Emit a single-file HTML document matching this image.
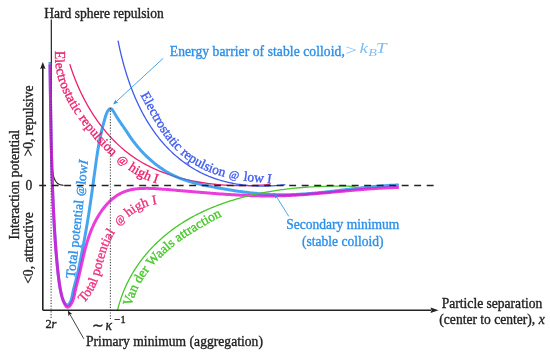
<!DOCTYPE html><html><head><meta charset="utf-8"><style>
*{margin:0;padding:0}
html,body{width:550px;height:354px;background:#fff;overflow:hidden}
svg{display:block}
text{font-family:"Liberation Serif",serif;font-size:13.55px}
</style></head><body><svg width="550" height="354" viewBox="0 0 550 354">
<defs>
<path id="pinkT" d="M57.22,37.33 L57.03,38.14 L56.86,38.95 L56.70,39.75 L56.54,40.55 L56.39,41.35 L56.25,42.15 L56.12,42.94 L55.99,43.73 L55.88,44.51 L55.77,45.29 L55.67,46.07 L55.57,46.84 L55.49,47.61 L55.41,48.38 L55.34,49.14 L55.28,49.91 L55.22,50.66 L55.17,51.42 L55.13,52.17 L55.10,52.92 L55.07,53.66 L55.05,54.40 L55.04,55.14 L55.04,55.88 L55.04,56.61 L55.05,57.34 L55.06,58.07 L55.08,58.79 L55.11,59.51 L55.14,60.23 L55.18,60.95 L55.23,61.66 L55.28,62.37 L55.34,63.08 L55.41,63.78 L55.48,64.48 L55.56,65.18 L55.64,65.88 L55.73,66.57 L55.83,67.26 L55.93,67.95 L56.03,68.64 L56.15,69.32 L56.26,70.00 L56.39,70.68 L56.51,71.35 L56.65,72.03 L56.79,72.70 L56.93,73.37 L57.08,74.03 L57.23,74.70 L57.39,75.36 L57.55,76.02 L57.72,76.67 L57.90,77.33 L58.07,77.98 L58.26,78.63 L58.44,79.28 L58.64,79.92 L58.83,80.56 L59.03,81.20 L59.24,81.84 L59.45,82.48 L59.66,83.11 L59.88,83.75 L60.10,84.38 L60.33,85.01 L60.56,85.63 L60.79,86.26 L61.03,86.88 L61.27,87.50 L61.51,88.12 L61.76,88.74 L62.02,89.35 L62.27,89.97 L62.53,90.58 L62.80,91.19 L63.06,91.80 L63.33,92.40 L63.61,93.01 L63.88,93.61 L64.16,94.21 L64.45,94.81 L64.74,95.41 L65.02,96.01 L65.32,96.60 L65.61,97.19 L65.91,97.79 L66.22,98.38 L66.52,98.96 L66.83,99.55 L67.14,100.14 L67.45,100.72 L67.77,101.30 L68.09,101.89 L68.41,102.47 L68.73,103.04 L69.06,103.62 L69.39,104.20 L69.72,104.77 L70.06,105.34 L70.40,105.92 L70.73,106.49 L71.08,107.05 L71.42,107.62 L71.77,108.19 L72.12,108.75 L72.47,109.32 L72.82,109.88 L73.18,110.44 L73.53,111.00 L73.89,111.56 L74.26,112.12 L74.62,112.67 L74.99,113.23 L75.36,113.78 L75.73,114.34 L76.10,114.89 L76.47,115.44 L76.85,115.99 L77.23,116.54 L77.61,117.09 L77.99,117.63 L78.37,118.18 L78.76,118.72 L79.14,119.26 L79.53,119.81 L79.92,120.35 L80.32,120.89 L80.71,121.42 L81.11,121.96 L81.50,122.50 L81.90,123.03 L82.30,123.57 L82.70,124.10 L83.11,124.63 L83.51,125.16 L83.92,125.69 L84.33,126.22 L84.74,126.75 L85.15,127.28 L85.56,127.80 L85.98,128.33 L86.39,128.85 L86.81,129.37 L87.23,129.89 L87.65,130.41 L88.07,130.93 L88.49,131.45 L88.92,131.97 L89.34,132.48 L89.77,133.00 L90.20,133.51 L90.63,134.02 L91.06,134.53 L91.49,135.04 L91.92,135.55 L92.36,136.06 L92.79,136.57 L93.23,137.07 L93.67,137.58 L94.11,138.08 L94.55,138.58 L94.99,139.08 L95.44,139.58 L95.88,140.08 L96.33,140.58 L96.78,141.07 L97.23,141.57 L97.68,142.06 L98.13,142.56 L98.58,143.05 L99.03,143.54 L99.49,144.02 L99.95,144.51 L100.40,145.00 L100.86,145.48 L101.32,145.96 L101.78,146.45 L102.25,146.93 L102.71,147.41 L103.17,147.88 L103.64,148.36 L104.11,148.83 L104.58,149.31 L105.05,149.78 L105.52,150.25 L105.99,150.72 L106.47,151.19 L106.94,151.65 L107.42,152.11 L107.90,152.58 L108.38,153.04 L108.86,153.50 L109.34,153.96 L109.82,154.41 L110.31,154.87 L110.79,155.32 L111.28,155.77 L111.77,156.22 L112.26,156.67 L112.75,157.11 L113.25,157.55 L113.74,158.00 L114.24,158.44 L114.74,158.87 L115.24,159.31 L115.74,159.74 L116.24,160.18 L116.75,160.61 L117.25,161.03 L117.76,161.46 L118.27,161.88 L118.78,162.31 L119.29,162.73 L119.81,163.14 L120.32,163.56 L120.84,163.97 L121.36,164.38 L121.88,164.79 L122.40,165.20 L122.93,165.60 L123.46,166.00 L123.98,166.40 L124.51,166.80 L125.05,167.19 L125.58,167.58 L126.12,167.97 L126.66,168.36 L127.20,168.74 L127.74,169.12 L128.28,169.50 L128.83,169.88 L129.38,170.25 L129.93,170.62 L130.48,170.99 L131.04,171.35 L131.60,171.71 L132.16,172.07 L132.72,172.43 L133.28,172.78 L133.85,173.13 L134.42,173.48 L134.99,173.82 L135.57,174.16 L136.14,174.50 L136.72,174.83 L137.31,175.16 L137.89,175.48 L138.48,175.81 L139.07,176.13 L139.66,176.44 L140.26,176.76 L140.86,177.06 L141.46,177.37 L142.06,177.67 L142.67,177.97 L143.28,178.26 L143.89,178.55 L144.51,178.84 L145.12,179.12 L145.75,179.40 L146.37,179.67 L147.00,179.94 L147.63,180.21 L148.26,180.47 L148.90,180.73 L149.54,180.98 L150.19,181.23 L150.84,181.47 L151.49,181.71 L152.14,181.94 L152.80,182.17 L153.46,182.40 L154.13,182.62 L154.80,182.84 L155.47,183.05 L156.14,183.25 L156.82,183.46 L157.51,183.65 L158.19,183.84 L158.89,184.03 L159.58,184.21 L160.28,184.39 L160.98,184.56 L161.69,184.72 L162.40,184.88 L163.12,185.04 L163.83,185.18 L164.56,185.33 L165.29,185.46 L166.02,185.60 L166.75,185.72 L167.49,185.84 L168.24,185.96 L168.99,186.07 L169.74,186.17 L170.50,186.26 L171.26,186.35"/>
<path id="blueT" d="M135.14,86.91 L135.45,87.36 L135.76,87.81 L136.06,88.26 L136.37,88.72 L136.67,89.19 L136.98,89.66 L137.28,90.13 L137.58,90.60 L137.88,91.08 L138.18,91.57 L138.48,92.05 L138.78,92.55 L139.08,93.04 L139.37,93.54 L139.67,94.04 L139.96,94.54 L140.26,95.05 L140.55,95.56 L140.85,96.08 L141.14,96.59 L141.44,97.11 L141.73,97.63 L142.02,98.16 L142.32,98.68 L142.61,99.21 L142.90,99.75 L143.20,100.28 L143.49,100.82 L143.78,101.35 L144.08,101.89 L144.37,102.44 L144.67,102.98 L144.96,103.52 L145.26,104.07 L145.55,104.62 L145.85,105.17 L146.14,105.72 L146.44,106.28 L146.74,106.83 L147.03,107.39 L147.33,107.94 L147.63,108.50 L147.93,109.06 L148.23,109.62 L148.53,110.18 L148.84,110.74 L149.14,111.30 L149.44,111.86 L149.75,112.43 L150.06,112.99 L150.36,113.55 L150.67,114.12 L150.98,114.68 L151.29,115.25 L151.60,115.81 L151.92,116.38 L152.23,116.94 L152.55,117.51 L152.87,118.07 L153.19,118.63 L153.51,119.20 L153.83,119.76 L154.15,120.33 L154.48,120.89 L154.81,121.45 L155.13,122.01 L155.46,122.57 L155.80,123.14 L156.13,123.70 L156.47,124.25 L156.80,124.81 L157.14,125.37 L157.48,125.93 L157.83,126.48 L158.17,127.04 L158.52,127.59 L158.87,128.14 L159.22,128.69 L159.57,129.24 L159.93,129.79 L160.29,130.34 L160.65,130.88 L161.01,131.43 L161.37,131.97 L161.74,132.51 L162.11,133.05 L162.48,133.59 L162.85,134.12 L163.23,134.66 L163.60,135.19 L163.98,135.72 L164.37,136.25 L164.75,136.77 L165.14,137.30 L165.53,137.82 L165.92,138.34 L166.32,138.86 L166.71,139.37 L167.11,139.89 L167.52,140.40 L167.92,140.91 L168.33,141.42 L168.74,141.92 L169.15,142.42 L169.57,142.92 L169.98,143.42 L170.41,143.91 L170.83,144.41 L171.25,144.90 L171.68,145.38 L172.11,145.87 L172.55,146.35 L172.99,146.83 L173.42,147.30 L173.87,147.78 L174.31,148.25 L174.76,148.71 L175.21,149.18 L175.66,149.64 L176.12,150.10 L176.58,150.55 L177.04,151.01 L177.50,151.46 L177.97,151.90 L178.44,152.35 L178.91,152.79 L179.39,153.22 L179.87,153.66 L180.35,154.09 L180.83,154.52 L181.32,154.94 L181.81,155.36 L182.30,155.78 L182.79,156.19 L183.29,156.61 L183.79,157.01 L184.29,157.42 L184.80,157.82 L185.30,158.22 L185.82,158.61 L186.33,159.00 L186.84,159.39 L187.36,159.77 L187.89,160.15 L188.41,160.53 L188.94,160.90 L189.47,161.27 L190.00,161.64 L190.53,162.00 L191.07,162.36 L191.61,162.72 L192.15,163.07 L192.69,163.42 L193.24,163.76 L193.79,164.10 L194.34,164.44 L194.90,164.78 L195.46,165.11 L196.01,165.43 L196.58,165.76 L197.14,166.08 L197.71,166.39 L198.28,166.71 L198.85,167.01 L199.42,167.32 L200.00,167.62 L200.57,167.92 L201.15,168.21 L201.74,168.50 L202.32,168.79 L202.91,169.07 L203.50,169.35 L204.09,169.63 L204.68,169.90 L205.27,170.17 L205.87,170.44 L206.47,170.70 L207.07,170.96 L207.67,171.21 L208.28,171.46 L208.88,171.71 L209.49,171.96 L210.10,172.20 L210.71,172.43 L211.33,172.67 L211.94,172.90 L212.56,173.12 L213.18,173.35 L213.80,173.57 L214.42,173.78 L215.04,174.00 L215.67,174.21 L216.29,174.41 L216.92,174.62 L217.55,174.82 L218.18,175.02 L218.81,175.21 L219.44,175.40 L220.08,175.59 L220.71,175.77 L221.35,175.95 L221.98,176.13 L222.62,176.30 L223.26,176.48 L223.90,176.64 L224.54,176.81 L225.18,176.97 L225.83,177.13 L226.47,177.29 L227.11,177.44 L227.76,177.59 L228.40,177.74 L229.05,177.89 L229.70,178.03 L230.34,178.17 L230.99,178.31 L231.64,178.44 L232.29,178.57 L232.94,178.70 L233.59,178.83 L234.24,178.95 L234.89,179.07 L235.54,179.19 L236.19,179.31 L236.84,179.42 L237.49,179.53 L238.14,179.64 L238.79,179.75 L239.43,179.86 L240.08,179.96 L240.73,180.06 L241.38,180.16 L242.03,180.26 L242.68,180.35 L243.32,180.44 L243.97,180.53 L244.62,180.62 L245.26,180.71 L245.91,180.80 L246.55,180.88 L247.19,180.96 L247.84,181.04 L248.48,181.12 L249.12,181.20 L249.75,181.27 L250.39,181.35 L251.03,181.42 L251.66,181.49 L252.30,181.56 L252.93,181.63 L253.56,181.70 L254.19,181.77 L254.82,181.83 L255.44,181.90 L256.07,181.96 L256.69,182.02 L257.31,182.08 L257.93,182.15 L258.54,182.21 L259.16,182.27 L259.77,182.32 L260.38,182.38 L260.98,182.44 L261.59,182.50 L262.19,182.56 L262.79,182.61 L263.39,182.67 L263.98,182.72 L264.57,182.78 L265.16,182.84 L265.75,182.89 L266.33,182.95 L266.91,183.01 L267.48,183.06 L268.05,183.12 L268.62,183.17 L269.19,183.23 L269.75,183.29 L270.31,183.35 L270.86,183.41 L271.41,183.47 L271.96,183.53 L272.50,183.59 L273.04,183.65 L273.57,183.71 L274.10,183.77 L274.63,183.84 L275.15,183.90 L275.66,183.97 L276.17,184.04 L276.68,184.11 L277.18,184.18 L277.67,184.25 L278.17,184.32 L278.65,184.40 L279.13,184.47 L279.60,184.55 L280.07,184.63 L280.53,184.71"/>
<path id="greenT" d="M129.00,317.13 L129.10,316.56 L129.20,315.99 L129.30,315.43 L129.40,314.86 L129.51,314.30 L129.61,313.74 L129.72,313.18 L129.84,312.63 L129.95,312.07 L130.07,311.52 L130.19,310.97 L130.32,310.43 L130.45,309.88 L130.57,309.34 L130.71,308.79 L130.84,308.25 L130.98,307.72 L131.12,307.18 L131.26,306.65 L131.40,306.11 L131.55,305.58 L131.70,305.06 L131.85,304.53 L132.00,304.01 L132.16,303.48 L132.32,302.96 L132.48,302.44 L132.64,301.93 L132.81,301.41 L132.98,300.90 L133.15,300.39 L133.32,299.88 L133.50,299.37 L133.68,298.87 L133.86,298.36 L134.04,297.86 L134.22,297.36 L134.41,296.86 L134.60,296.37 L134.79,295.87 L134.99,295.38 L135.18,294.89 L135.38,294.40 L135.58,293.91 L135.79,293.42 L135.99,292.94 L136.20,292.46 L136.41,291.98 L136.62,291.50 L136.84,291.02 L137.05,290.55 L137.27,290.07 L137.49,289.60 L137.72,289.13 L137.94,288.66 L138.17,288.20 L138.40,287.73 L138.63,287.27 L138.87,286.80 L139.10,286.34 L139.34,285.89 L139.58,285.43 L139.82,284.97 L140.07,284.52 L140.31,284.07 L140.56,283.62 L140.81,283.17 L141.07,282.72 L141.32,282.28 L141.58,281.83 L141.84,281.39 L142.10,280.95 L142.36,280.51 L142.62,280.07 L142.89,279.63 L143.16,279.20 L143.43,278.77 L143.70,278.33 L143.98,277.90 L144.25,277.48 L144.53,277.05 L144.81,276.62 L145.09,276.20 L145.38,275.78 L145.66,275.36 L145.95,274.94 L146.24,274.52 L146.53,274.10 L146.82,273.69 L147.12,273.27 L147.42,272.86 L147.72,272.45 L148.02,272.04 L148.32,271.63 L148.62,271.22 L148.93,270.82 L149.24,270.41 L149.55,270.01 L149.86,269.61 L150.17,269.21 L150.49,268.81 L150.80,268.42 L151.12,268.02 L151.44,267.63 L151.76,267.23 L152.09,266.84 L152.41,266.45 L152.74,266.06 L153.07,265.68 L153.40,265.29 L153.73,264.91 L154.06,264.52 L154.40,264.14 L154.73,263.76 L155.07,263.38 L155.41,263.00 L155.75,262.62 L156.09,262.25 L156.44,261.88 L156.79,261.50 L157.13,261.13 L157.48,260.76 L157.83,260.39 L158.18,260.02 L158.54,259.66 L158.89,259.29 L159.25,258.93 L159.61,258.56 L159.97,258.20 L160.33,257.84 L160.69,257.48 L161.06,257.12 L161.42,256.77 L161.79,256.41 L162.16,256.06 L162.53,255.70 L162.90,255.35 L163.27,255.00 L163.65,254.65 L164.02,254.30 L164.40,253.95 L164.78,253.61 L165.15,253.26 L165.54,252.92 L165.92,252.57 L166.30,252.23 L166.69,251.89 L167.07,251.55 L167.46,251.21 L167.85,250.88 L168.24,250.54 L168.63,250.20 L169.02,249.87 L169.41,249.54 L169.81,249.21 L170.21,248.87 L170.60,248.55 L171.00,248.22 L171.40,247.89 L171.80,247.56 L172.20,247.24 L172.61,246.91 L173.01,246.59 L173.42,246.27 L173.82,245.94 L174.23,245.62 L174.64,245.31 L175.05,244.99 L175.46,244.67 L175.87,244.35 L176.28,244.04 L176.70,243.72 L177.11,243.41 L177.53,243.10 L177.95,242.79 L178.36,242.48 L178.78,242.17 L179.20,241.86 L179.63,241.55 L180.05,241.24 L180.47,240.94 L180.89,240.63 L181.32,240.33 L181.75,240.03 L182.17,239.72 L182.60,239.42 L183.03,239.12 L183.46,238.82 L183.89,238.53 L184.32,238.23 L184.75,237.93 L185.19,237.64 L185.62,237.34 L186.05,237.05 L186.49,236.75 L186.93,236.46 L187.36,236.17 L187.80,235.88 L188.24,235.59 L188.68,235.30 L189.12,235.01 L189.56,234.73 L190.00,234.44 L190.44,234.15 L190.89,233.87 L191.33,233.59 L191.78,233.30 L192.22,233.02 L192.67,232.74 L193.11,232.46 L193.56,232.18 L194.01,231.90 L194.46,231.62 L194.91,231.34 L195.36,231.07 L195.81,230.79 L196.26,230.51 L196.71,230.24 L197.16,229.96 L197.61,229.69 L198.07,229.42 L198.52,229.15 L198.98,228.88 L199.43,228.61 L199.89,228.34 L200.34,228.07 L200.80,227.80 L201.26,227.53 L201.71,227.26 L202.17,227.00 L202.63,226.73 L203.09,226.47 L203.55,226.20 L204.01,225.94 L204.47,225.68 L204.93,225.41 L205.39,225.15 L205.85,224.89 L206.31,224.63 L206.77,224.37 L207.23,224.11 L207.70,223.85 L208.16,223.59 L208.62,223.34 L209.09,223.08 L209.55,222.82 L210.01,222.57 L210.48,222.31 L210.94,222.06 L211.41,221.80 L211.87,221.55 L212.34,221.30 L212.80,221.04 L213.27,220.79 L213.74,220.54 L214.20,220.29 L214.67,220.04 L215.13,219.79 L215.60,219.54 L216.07,219.29 L216.54,219.04 L217.00,218.79 L217.47,218.55 L217.94,218.30 L218.40,218.05 L218.87,217.81 L219.34,217.56 L219.81,217.31 L220.27,217.07 L220.74,216.83 L221.21,216.58 L221.68,216.34 L222.15,216.10 L222.61,215.85 L223.08,215.61 L223.55,215.37 L224.02,215.13 L224.49,214.89 L224.95,214.65 L225.42,214.41 L225.89,214.17 L226.36,213.93 L226.82,213.69 L227.29,213.45 L227.76,213.21 L228.23,212.97 L228.69,212.73 L229.16,212.50 L229.63,212.26 L230.09,212.02 L230.56,211.79 L231.03,211.55 L231.49,211.31 L231.96,211.08 L232.42,210.84 L232.89,210.61 L233.35,210.37 L233.82,210.14 L234.28,209.90"/>
<path id="magT" d="M70.23,312.75 L70.95,312.34 L71.66,311.93 L72.35,311.52 L73.03,311.11 L73.70,310.69 L74.36,310.27 L75.00,309.85 L75.64,309.42 L76.26,309.00 L76.87,308.57 L77.47,308.14 L78.05,307.71 L78.63,307.27 L79.20,306.84 L79.75,306.40 L80.30,305.96 L80.83,305.51 L81.35,305.07 L81.87,304.62 L82.37,304.17 L82.87,303.72 L83.35,303.27 L83.82,302.82 L84.29,302.36 L84.74,301.90 L85.19,301.44 L85.63,300.98 L86.06,300.52 L86.48,300.05 L86.89,299.59 L87.29,299.12 L87.68,298.65 L88.07,298.18 L88.45,297.70 L88.82,297.23 L89.18,296.75 L89.53,296.28 L89.88,295.80 L90.22,295.32 L90.55,294.84 L90.88,294.36 L91.20,293.87 L91.51,293.39 L91.81,292.91 L92.11,292.42 L92.40,291.93 L92.68,291.45 L92.96,290.96 L93.24,290.47 L93.50,289.98 L93.76,289.49 L94.02,289.00 L94.27,288.51 L94.51,288.01 L94.75,287.52 L94.99,287.03 L95.22,286.53 L95.44,286.04 L95.66,285.54 L95.88,285.05 L96.09,284.55 L96.29,284.06 L96.50,283.56 L96.69,283.06 L96.89,282.57 L97.08,282.07 L97.27,281.57 L97.45,281.07 L97.63,280.58 L97.81,280.08 L97.98,279.58 L98.16,279.08 L98.32,278.59 L98.49,278.09 L98.65,277.59 L98.81,277.09 L98.97,276.59 L99.13,276.10 L99.28,275.60 L99.44,275.10 L99.59,274.60 L99.73,274.10 L99.88,273.61 L100.03,273.11 L100.17,272.61 L100.31,272.11 L100.45,271.62 L100.59,271.12 L100.73,270.62 L100.87,270.13 L101.00,269.63 L101.14,269.14 L101.28,268.64 L101.41,268.14 L101.54,267.65 L101.68,267.15 L101.81,266.66 L101.94,266.17 L102.08,265.67 L102.21,265.18 L102.34,264.69 L102.48,264.19 L102.61,263.70 L102.74,263.21 L102.88,262.72 L103.01,262.23 L103.14,261.74 L103.28,261.25 L103.41,260.76 L103.55,260.27 L103.69,259.78 L103.83,259.29 L103.96,258.81 L104.10,258.32 L104.25,257.83 L104.39,257.35 L104.53,256.86 L104.67,256.38 L104.82,255.90 L104.97,255.41 L105.12,254.93 L105.27,254.45 L105.42,253.97 L105.57,253.49 L105.72,253.01 L105.88,252.53 L106.04,252.06 L106.20,251.58 L106.36,251.10 L106.52,250.63 L106.69,250.15 L106.86,249.68 L107.03,249.21 L107.20,248.74 L107.37,248.27 L107.55,247.80 L107.72,247.33 L107.90,246.87 L108.09,246.40 L108.27,245.93 L108.46,245.47 L108.65,245.01 L108.84,244.55 L109.04,244.09 L109.23,243.63 L109.43,243.17 L109.63,242.71 L109.84,242.26 L110.05,241.80 L110.26,241.35 L110.47,240.90 L110.68,240.45 L110.90,240.00 L111.12,239.55 L111.35,239.10 L111.57,238.66 L111.80,238.22 L112.03,237.77 L112.27,237.33 L112.51,236.89 L112.75,236.46 L112.99,236.02 L113.24,235.59 L113.49,235.15 L113.74,234.72 L114.00,234.29 L114.25,233.86 L114.52,233.44 L114.78,233.01 L115.05,232.59 L115.32,232.17 L115.59,231.75 L115.87,231.33 L116.15,230.92 L116.43,230.50 L116.72,230.09 L117.01,229.68 L117.30,229.27 L117.60,228.87 L117.89,228.46 L118.20,228.06 L118.50,227.66 L118.81,227.26 L119.12,226.87 L119.43,226.47 L119.75,226.08 L120.07,225.69 L120.39,225.31 L120.72,224.92 L121.05,224.54 L121.38,224.16 L121.72,223.78 L122.06,223.40 L122.40,223.03 L122.74,222.66 L123.09,222.29 L123.44,221.93 L123.79,221.56 L124.15,221.20 L124.51,220.85 L124.87,220.49 L125.23,220.14 L125.60,219.79 L125.97,219.44 L126.34,219.09 L126.72,218.75 L127.10,218.41 L127.48,218.08 L127.86,217.74 L128.25,217.41 L128.64,217.09 L129.03,216.76 L129.43,216.44 L129.82,216.12 L130.22,215.81 L130.62,215.50 L131.03,215.19 L131.43,214.88 L131.84,214.58 L132.25,214.28 L132.67,213.99 L133.08,213.69 L133.50,213.41 L133.92,213.12 L134.34,212.84 L134.76,212.56 L135.19,212.28 L135.61,212.01 L136.04,211.75 L136.47,211.48 L136.91,211.22 L137.34,210.97 L137.78,210.71 L138.21,210.47 L138.65,210.22 L139.09,209.98 L139.53,209.74 L139.98,209.51 L140.42,209.28 L140.86,209.06 L141.31,208.84 L141.76,208.62 L142.20,208.41 L142.65,208.20 L143.10,207.99 L143.55,207.79 L144.00,207.60 L144.45,207.41 L144.91,207.22 L145.36,207.04 L145.81,206.86 L146.26,206.69 L146.71,206.52 L147.17,206.36 L147.62,206.20 L148.07,206.05 L148.52,205.90 L148.98,205.75 L149.43,205.61 L149.88,205.48 L150.33,205.35 L150.78,205.22 L151.23,205.10 L151.67,204.99 L152.12,204.88 L152.57,204.77 L153.01,204.67 L153.45,204.58 L153.89,204.49 L154.33,204.40 L154.77,204.32 L155.21,204.25 L155.64,204.18 L156.07,204.12 L156.50,204.06 L156.93,204.01 L157.36,203.96 L157.78,203.92 L158.20,203.89 L158.62,203.85 L159.03,203.83 L159.44,203.81 L159.85,203.80 L160.26,203.79 L160.66,203.79 L161.06,203.79 L161.45,203.80 L161.84,203.81 L162.23,203.83 L162.61,203.86 L162.98,203.89 L163.36,203.92 L163.73,203.97 L164.09,204.01 L164.45,204.07 L164.80,204.12 L165.15,204.19 L165.50,204.26 L165.83,204.33"/>
</defs>
<path d="M69.82,64.18 70.25,65.57 70.70,66.96 71.15,68.35 71.62,69.74 72.10,71.13 72.59,72.52 73.09,73.91 73.60,75.30 74.12,76.69 74.65,78.08 75.19,79.47 75.75,80.85 76.31,82.23 76.89,83.61 77.47,84.99 78.07,86.37 78.68,87.74 79.30,89.11 79.92,90.48 80.56,91.84 81.21,93.20 81.87,94.56 82.54,95.91 83.22,97.26 83.91,98.61 84.62,99.95 85.33,101.28 86.05,102.61 86.78,103.94 87.53,105.25 88.28,106.57 89.05,107.88 89.82,109.18 90.61,110.47 91.40,111.76 92.21,113.05 93.02,114.32 93.85,115.59 94.68,116.85 95.53,118.10 96.39,119.35 97.25,120.59 98.13,121.82 99.02,123.04 99.91,124.25 100.82,125.46 101.74,126.65 102.66,127.84 103.60,129.01 104.55,130.18 105.50,131.34 106.47,132.49 107.45,133.62 108.43,134.75 109.43,135.86 110.44,136.97 111.45,138.06 112.48,139.15 113.51,140.22 114.56,141.28 115.61,142.32 116.68,143.36 117.75,144.38 118.84,145.39 119.93,146.39 121.03,147.38 122.15,148.35 123.27,149.31 124.40,150.25 125.55,151.18 126.70,152.10 127.86,153.00 129.03,153.89 130.21,154.76 131.40,155.62 132.60,156.47 133.80,157.30 135.02,158.11 136.24,158.92 137.48,159.71 138.72,160.48 139.97,161.24 141.23,161.99 142.50,162.73 143.77,163.45 145.05,164.15 146.34,164.85 147.64,165.53 148.95,166.20 150.26,166.85 151.58,167.50 152.90,168.12 154.24,168.74 155.58,169.35 156.92,169.94 158.28,170.52 159.64,171.08 161.00,171.64 162.37,172.18 163.75,172.71 165.13,173.22 166.52,173.73 167.92,174.22 169.32,174.71 170.72,175.18 172.14,175.64 173.55,176.08 174.97,176.52 176.40,176.94 177.83,177.36 179.26,177.76 180.70,178.15 182.14,178.53 183.59,178.90 185.04,179.25 186.50,179.60 187.95,179.94 189.42,180.26 190.88,180.58 192.35,180.88 193.82,181.18 195.30,181.46 196.78,181.74 198.26,182.00 199.74,182.25 201.23,182.50 202.71,182.73 204.20,182.96 205.70,183.17 207.19,183.38 208.69,183.57 210.19,183.76 211.69,183.94 213.19,184.11 214.69,184.26 216.19,184.41 217.70,184.55 219.20,184.69 220.71,184.81 222.22,184.92 223.72,185.03 225.23,185.13 226.74,185.22 228.25,185.30 229.75,185.37 231.26,185.43 232.77,185.49 234.28,185.54 235.78,185.58 237.29,185.61 238.80,185.64 240.30,185.65 241.80,185.66 243.31,185.67 244.81,185.66 246.31,185.65 247.80,185.63 249.30,185.60 250.79,185.57 252.28,185.53 253.77,185.48 255.26,185.42 256.75,185.36 258.23,185.29 259.71,185.22 261.19,185.14 262.66,185.05 264.13,184.96 265.60,184.86 267.06,184.75 268.53,184.64 269.98,184.52" fill="none" stroke="#ef1f6e" stroke-width="1.3"/>
<path d="M118.03,40.60 118.30,41.98 118.59,43.38 118.88,44.78 119.17,46.18 119.48,47.58 119.79,48.99 120.11,50.40 120.43,51.82 120.76,53.23 121.10,54.65 121.45,56.08 121.81,57.50 122.17,58.93 122.54,60.35 122.92,61.78 123.30,63.21 123.70,64.65 124.10,66.08 124.51,67.51 124.93,68.94 125.35,70.38 125.79,71.81 126.23,73.25 126.68,74.68 127.14,76.11 127.61,77.54 128.08,78.97 128.57,80.40 129.06,81.83 129.56,83.26 130.08,84.68 130.60,86.10 131.12,87.52 131.66,88.94 132.21,90.35 132.77,91.76 133.33,93.17 133.91,94.58 134.49,95.98 135.08,97.38 135.69,98.77 136.30,100.16 136.92,101.54 137.56,102.92 138.20,104.30 138.85,105.67 139.51,107.03 140.18,108.39 140.86,109.75 141.56,111.09 142.26,112.44 142.97,113.77 143.69,115.10 144.43,116.42 145.17,117.74 145.92,119.04 146.69,120.34 147.46,121.64 148.25,122.92 149.05,124.20 149.86,125.47 150.67,126.73 151.50,127.98 152.35,129.22 153.20,130.45 154.06,131.68 154.93,132.89 155.82,134.10 156.72,135.29 157.63,136.48 158.55,137.65 159.48,138.82 160.42,139.97 161.38,141.11 162.34,142.24 163.32,143.36 164.31,144.47 165.31,145.57 166.32,146.65 167.34,147.73 168.38,148.79 169.42,149.84 170.48,150.87 171.54,151.90 172.62,152.91 173.70,153.91 174.80,154.89 175.91,155.87 177.03,156.82 178.16,157.77 179.30,158.70 180.45,159.62 181.61,160.53 182.78,161.42 183.96,162.29 185.15,163.15 186.35,164.00 187.56,164.83 188.77,165.65 190.00,166.45 191.24,167.24 192.49,168.01 193.75,168.77 195.01,169.51 196.29,170.23 197.58,170.94 198.87,171.63 200.18,172.31 201.49,172.96 202.81,173.61 204.14,174.23 205.48,174.84 206.83,175.43 208.19,176.01 209.55,176.56 210.93,177.10 212.31,177.63 213.70,178.13 215.09,178.62 216.50,179.10 217.91,179.56 219.33,180.00 220.75,180.42 222.18,180.83 223.62,181.22 225.06,181.60 226.51,181.96 227.97,182.31 229.43,182.63 230.89,182.95 232.36,183.25 233.84,183.53 235.32,183.80 236.80,184.05 238.29,184.29 239.78,184.51 241.28,184.72 242.78,184.91 244.28,185.09 245.78,185.25 247.29,185.40 248.80,185.53 250.31,185.65 251.83,185.76 253.35,185.85 254.87,185.92 256.39,185.99 257.91,186.04 259.43,186.07 260.96,186.09 262.48,186.10 264.01,186.09 265.53,186.07 267.06,186.04 268.58,186.00 270.11,185.94 271.63,185.86 273.15,185.78 274.68,185.68 276.20,185.57 277.72,185.45 279.24,185.31 280.75,185.16 282.27,185.00 283.78,184.82 285.29,184.64" fill="none" stroke="#3f5bef" stroke-width="1.3"/>
<path d="M51.3,19.5 L51.5,150 C51.9,176 53.3,185.3 63.5,185.3" fill="none" stroke="#222" stroke-width="1.2"/>
<path d="M50.00,62.00 50.02,63.49 50.04,64.99 50.06,66.48 50.08,67.98 50.10,69.47 50.12,70.96 50.14,72.46 50.16,73.95 50.18,75.45 50.20,76.94 50.22,78.44 50.24,79.93 50.26,81.43 50.28,82.93 50.30,84.42 50.32,85.92 50.34,87.41 50.36,88.91 50.38,90.41 50.40,91.90 50.42,93.40 50.44,94.90 50.46,96.40 50.48,97.89 50.50,99.39 50.52,100.89 50.54,102.39 50.56,103.88 50.58,105.38 50.60,106.88 50.63,108.38 50.65,109.88 50.67,111.37 50.69,112.87 50.71,114.37 50.74,115.87 50.76,117.37 50.78,118.87 50.81,120.37 50.83,121.86 50.86,123.36 50.88,124.86 50.91,126.36 50.93,127.86 50.96,129.36 50.98,130.86 51.01,132.36 51.04,133.86 51.07,135.36 51.10,136.85 51.13,138.35 51.16,139.85 51.19,141.35 51.22,142.85 51.25,144.35 51.28,145.85 51.31,147.35 51.35,148.85 51.38,150.35 51.42,151.85 51.45,153.35 51.49,154.84 51.53,156.34 51.56,157.84 51.60,159.34 51.64,160.84 51.68,162.34 51.72,163.84 51.76,165.34 51.81,166.84 51.85,168.34 51.89,169.83 51.94,171.33 51.99,172.83 52.03,174.33 52.08,175.83 52.13,177.33 52.18,178.82 52.23,180.32 52.28,181.82 52.34,183.32 52.39,184.82 52.44,186.31 52.50,187.81 52.56,189.31 52.62,190.81 52.68,192.30 52.74,193.80 52.80,195.30 52.86,196.79 52.92,198.29 52.99,199.79 53.06,201.28 53.12,202.78 53.19,204.27 53.26,205.77 53.33,207.27 53.41,208.76 53.48,210.26 53.56,211.75 53.63,213.25 53.71,214.74 53.79,216.24 53.87,217.73 53.95,219.22 54.04,220.72 54.12,222.21 54.21,223.71 54.30,225.20 54.38,226.69 54.48,228.19 54.57,229.68 54.66,231.17 54.76,232.66 54.85,234.15 54.95,235.65 55.05,237.14 55.15,238.63 55.26,240.12 55.36,241.61 55.47,243.10 55.58,244.59 55.69,246.08 55.80,247.57 55.91,249.06 56.03,250.55 56.14,252.04 56.26,253.53 56.38,255.01 56.51,256.50 56.63,257.99 56.76,259.48 56.88,260.96 57.01,262.45 57.14,263.94 57.28,265.42 57.41,266.91 57.55,268.39 57.69,269.88 57.84,271.36 57.99,272.85 58.15,274.34 58.31,275.82 58.49,277.31 58.67,278.80 58.86,280.29 59.07,281.79 59.28,283.28 59.52,284.78 59.76,286.27 60.02,287.78 60.30,289.28 60.59,290.79 60.90,292.30 61.23,293.81 61.58,295.32 61.96,296.84 62.40,298.35 62.92,299.83 63.56,301.28 64.35,302.68 65.30,303.97 66.34,304.91 67.39,305.25 68.38,304.81 69.28,303.79 70.06,302.46 70.71,301.01 71.25,299.49 71.71,297.91 72.09,296.30 72.44,294.68 72.76,293.07 73.09,291.49 73.43,289.96 73.78,288.46 74.14,287.00 74.51,285.57 74.89,284.15 75.26,282.74 75.64,281.34 76.01,279.93 76.37,278.52 76.72,277.10 77.07,275.66 77.41,274.23 77.74,272.78 78.07,271.33 78.39,269.87 78.71,268.41 79.02,266.94 79.33,265.47 79.63,263.99 79.93,262.52 80.23,261.04 80.52,259.56 80.81,258.08 81.11,256.60 81.40,255.12 81.68,253.64 81.97,252.16 82.26,250.69 82.54,249.21 82.82,247.74 83.11,246.26 83.39,244.79 83.66,243.32 83.94,241.84 84.22,240.37 84.49,238.90 84.76,237.43 85.03,235.96 85.30,234.49 85.56,233.02 85.82,231.55 86.08,230.07 86.34,228.60 86.59,227.13 86.85,225.66 87.10,224.19 87.34,222.72 87.59,221.24 87.83,219.77 88.07,218.30 88.30,216.82 88.54,215.35 88.77,213.88 89.00,212.40 89.22,210.92 89.45,209.45 89.67,207.97 89.89,206.49 90.11,205.02 90.33,203.54 90.54,202.06 90.76,200.58 90.97,199.10 91.18,197.62 91.39,196.14 91.60,194.65 91.81,193.17 92.01,191.69 92.22,190.20 92.42,188.72 92.63,187.24 92.83,185.75 93.03,184.26 93.24,182.78 93.44,181.29 93.64,179.80 93.84,178.31 94.05,176.82 94.25,175.33 94.45,173.84 94.65,172.35 94.86,170.85 95.06,169.36 95.27,167.86 95.47,166.37 95.68,164.87 95.88,163.38 96.09,161.88 96.30,160.39 96.52,158.90 96.73,157.41 96.95,155.93 97.18,154.45 97.40,152.98 97.64,151.51 97.87,150.05 98.12,148.59 98.37,147.13 98.62,145.68 98.88,144.23 99.15,142.77 99.43,141.32 99.71,139.87 100.00,138.42 100.30,136.97 100.61,135.52 100.93,134.07 101.25,132.61 101.59,131.15 101.93,129.69 102.29,128.22 102.66,126.75 103.04,125.27 103.43,123.78 103.83,122.30 104.25,120.80 104.67,119.29 105.11,117.78 105.57,116.27 106.08,114.76 106.65,113.28 107.33,111.85 108.14,110.48 109.06,109.35 110.04,108.71 111.04,108.79 112.04,109.53 113.03,110.75 114.01,112.27 114.96,113.89 115.88,115.45 116.76,116.91 117.63,118.29 118.47,119.59 119.28,120.83 120.09,122.02 120.88,123.17 121.66,124.29 122.44,125.41 123.21,126.52 123.99,127.65 124.77,128.80 125.56,129.98 126.35,131.18 127.16,132.40 127.97,133.64 128.80,134.88 129.64,136.13 130.50,137.37 131.37,138.60 132.25,139.83 133.15,141.04 134.06,142.25 134.99,143.45 135.93,144.63 136.88,145.81 137.85,146.97 138.84,148.13 139.83,149.27 140.84,150.40 141.87,151.52 142.90,152.62 143.95,153.71 145.01,154.79 146.09,155.86 147.18,156.91 148.28,157.94 149.39,158.96 150.52,159.97 151.66,160.96 152.80,161.93 153.97,162.89 155.14,163.83 156.32,164.76 157.52,165.66 158.73,166.55 159.95,167.42 161.18,168.28 162.42,169.11 163.67,169.92 164.93,170.72 166.20,171.50 167.49,172.25 168.78,172.99 170.08,173.70 171.40,174.40 172.72,175.07 174.05,175.72 175.40,176.34 176.75,176.95 178.11,177.53 179.48,178.09 180.86,178.63 182.24,179.15 183.64,179.65 185.04,180.13 186.45,180.60 187.87,181.05 189.29,181.48 190.72,181.89 192.15,182.29 193.59,182.68 195.03,183.06 196.48,183.42 197.94,183.77 199.39,184.11 200.86,184.45 202.32,184.77 203.79,185.08 205.26,185.39 206.73,185.69 208.20,185.99 209.68,186.28 211.16,186.57 212.63,186.85 214.11,187.13 215.59,187.41 217.07,187.69 218.55,187.96 220.03,188.23 221.52,188.50 223.00,188.76 224.48,189.02 225.97,189.27 227.45,189.52 228.93,189.77 230.42,190.01 231.91,190.25 233.39,190.48 234.88,190.71 236.37,190.94 237.85,191.15 239.34,191.37 240.83,191.58 242.32,191.78 243.81,191.98 245.30,192.17 246.79,192.36 248.28,192.54 249.77,192.71 251.26,192.88 252.75,193.04 254.24,193.20 255.73,193.35 257.22,193.49 258.71,193.62 260.20,193.75 261.70,193.87 263.19,193.99 264.68,194.09 266.17,194.19 267.66,194.28 269.16,194.36 270.65,194.44 272.14,194.50 273.64,194.56 275.13,194.61 276.62,194.65 278.11,194.69 279.61,194.71 281.10,194.73 282.59,194.73 284.08,194.73 285.58,194.72 287.07,194.70 288.56,194.67 290.05,194.63 291.55,194.59 293.04,194.54 294.53,194.48 296.02,194.42 297.51,194.35 299.01,194.27 300.50,194.19 301.99,194.09 303.48,194.00 304.97,193.90 306.47,193.79 307.96,193.67 309.45,193.56 310.94,193.43 312.43,193.31 313.92,193.17 315.41,193.04 316.91,192.90 318.40,192.75 319.89,192.60 321.38,192.45 322.87,192.30 324.36,192.14 325.85,191.98 327.34,191.81 328.84,191.65 330.33,191.48 331.82,191.31 333.31,191.14 334.80,190.97 336.29,190.79 337.78,190.62 339.27,190.44 340.76,190.26 342.25,190.08 343.74,189.91 345.23,189.73 346.72,189.55 348.21,189.37 349.70,189.19 351.19,189.02 352.68,188.84 354.17,188.67 355.66,188.49 357.15,188.32 358.64,188.15 360.13,187.99 361.62,187.82 363.11,187.66 364.60,187.50 366.09,187.34 367.58,187.18 369.07,187.03 370.56,186.89 372.05,186.74 373.54,186.60 375.03,186.46 376.52,186.33 378.01,186.21 379.50,186.08 380.98,185.96 382.47,185.85 383.96,185.75 385.45,185.64 386.94,185.55 388.43,185.46 389.92,185.37 391.41,185.30 392.89,185.23 394.38,185.16 395.87,185.11 397.36,185.06 398.85,185.01" fill="none" stroke="#188eec" stroke-opacity="0.8" stroke-width="3" stroke-linejoin="round"/>
<path d="M50.03,64.60 50.04,66.10 50.06,67.60 50.08,69.10 50.09,70.61 50.11,72.11 50.13,73.61 50.14,75.11 50.16,76.61 50.18,78.11 50.20,79.61 50.21,81.11 50.23,82.61 50.25,84.11 50.27,85.61 50.29,87.11 50.31,88.61 50.32,90.11 50.34,91.61 50.36,93.11 50.38,94.60 50.40,96.10 50.42,97.60 50.44,99.10 50.47,100.60 50.49,102.10 50.51,103.60 50.53,105.10 50.55,106.59 50.58,108.09 50.60,109.59 50.62,111.09 50.65,112.59 50.67,114.08 50.70,115.58 50.72,117.08 50.75,118.58 50.77,120.08 50.80,121.57 50.83,123.07 50.85,124.57 50.88,126.07 50.91,127.56 50.94,129.06 50.97,130.56 51.00,132.06 51.03,133.55 51.06,135.05 51.09,136.55 51.12,138.05 51.15,139.54 51.19,141.04 51.22,142.54 51.26,144.04 51.29,145.53 51.33,147.03 51.36,148.53 51.40,150.03 51.43,151.52 51.47,153.02 51.51,154.52 51.55,156.02 51.59,157.52 51.63,159.01 51.67,160.51 51.71,162.01 51.76,163.51 51.80,165.00 51.84,166.50 51.89,168.00 51.93,169.50 51.98,171.00 52.02,172.50 52.07,173.99 52.12,175.49 52.17,176.99 52.22,178.49 52.27,179.99 52.32,181.49 52.37,182.99 52.43,184.48 52.48,185.98 52.53,187.48 52.59,188.98 52.65,190.48 52.70,191.98 52.76,193.48 52.82,194.98 52.88,196.48 52.94,197.98 53.00,199.48 53.06,200.98 53.13,202.48 53.19,203.98 53.26,205.48 53.32,206.98 53.39,208.48 53.46,209.99 53.53,211.49 53.60,212.99 53.67,214.49 53.74,215.99 53.82,217.49 53.89,218.99 53.97,220.49 54.05,221.99 54.13,223.49 54.21,225.00 54.30,226.50 54.38,228.00 54.47,229.50 54.56,230.99 54.65,232.49 54.74,233.99 54.84,235.49 54.93,236.99 55.03,238.49 55.13,239.98 55.24,241.48 55.34,242.98 55.45,244.47 55.56,245.97 55.67,247.46 55.79,248.95 55.91,250.45 56.03,251.94 56.15,253.43 56.28,254.92 56.41,256.41 56.54,257.90 56.68,259.39 56.81,260.87 56.95,262.36 57.10,263.85 57.25,265.33 57.40,266.81 57.55,268.29 57.71,269.78 57.87,271.26 58.03,272.74 58.20,274.21 58.37,275.69 58.55,277.16 58.73,278.64 58.91,280.11 59.10,281.59 59.30,283.06 59.52,284.53 59.75,286.01 59.99,287.49 60.25,288.98 60.54,290.46 60.85,291.96 61.19,293.46 61.55,294.96 61.95,296.48 62.39,298.00 62.89,299.53 63.44,301.08 64.07,302.65 64.78,304.20 65.57,305.58 66.43,306.63 67.37,307.14 68.37,306.99 69.41,306.25 70.42,305.08 71.36,303.65 72.17,302.10 72.84,300.56 73.38,299.03 73.82,297.52 74.19,296.01 74.51,294.51 74.81,293.02 75.11,291.53 75.44,290.06 75.78,288.58 76.13,287.12 76.50,285.65 76.87,284.19 77.25,282.73 77.62,281.28 77.99,279.82 78.36,278.36 78.71,276.91 79.06,275.45 79.40,273.99 79.74,272.53 80.08,271.08 80.41,269.62 80.73,268.16 81.06,266.71 81.39,265.25 81.71,263.80 82.04,262.35 82.36,260.89 82.69,259.44 83.02,257.99 83.36,256.55 83.70,255.10 84.05,253.66 84.40,252.21 84.76,250.77 85.13,249.33 85.50,247.90 85.89,246.47 86.28,245.04 86.69,243.61 87.11,242.18 87.54,240.76 87.99,239.34 88.45,237.93 88.92,236.52 89.41,235.11 89.92,233.70 90.44,232.30 90.99,230.91 91.55,229.51 92.13,228.13 92.73,226.74 93.36,225.36 94.00,223.99 94.67,222.62 95.37,221.25 96.08,219.89 96.83,218.54 97.59,217.20 98.38,215.87 99.19,214.56 100.03,213.25 100.89,211.97 101.77,210.70 102.68,209.45 103.61,208.23 104.56,207.03 105.53,205.85 106.53,204.70 107.54,203.58 108.58,202.49 109.65,201.43 110.73,200.41 111.83,199.42 112.96,198.47 114.11,197.55 115.28,196.68 116.46,195.86 117.67,195.07 118.90,194.33 120.16,193.64 121.43,193.01 122.72,192.41 124.03,191.87 125.36,191.38 126.70,190.93 128.06,190.52 129.44,190.15 130.84,189.82 132.24,189.53 133.67,189.28 135.10,189.06 136.55,188.87 138.01,188.72 139.48,188.59 140.96,188.50 142.44,188.43 143.94,188.38 145.45,188.36 146.96,188.35 148.48,188.37 150.00,188.41 151.53,188.46 153.06,188.53 154.60,188.60 156.13,188.69 157.67,188.79 159.21,188.90 160.76,189.01 162.30,189.13 163.83,189.25 165.37,189.38 166.91,189.50 168.44,189.62 169.97,189.75 171.50,189.88 173.03,190.00 174.55,190.13 176.08,190.26 177.60,190.39 179.12,190.52 180.64,190.65 182.16,190.78 183.67,190.91 185.19,191.04 186.70,191.17 188.21,191.30 189.72,191.43 191.23,191.56 192.73,191.69 194.24,191.82 195.74,191.95 197.25,192.08 198.75,192.21 200.25,192.34 201.75,192.46 203.25,192.59 204.74,192.71 206.24,192.84 207.74,192.96 209.23,193.08 210.72,193.20 212.22,193.32 213.71,193.43 215.20,193.55 216.69,193.66 218.18,193.78 219.67,193.89 221.15,193.99 222.64,194.10 224.13,194.20 225.61,194.31 227.10,194.41 228.59,194.50 230.07,194.60 231.55,194.69 233.04,194.78 234.52,194.87 236.01,194.95 237.49,195.03 238.97,195.11 240.46,195.19 241.94,195.26 243.42,195.33 244.90,195.40 246.39,195.46 247.87,195.52 249.35,195.57 250.83,195.63 252.32,195.67 253.80,195.72 255.28,195.76 256.77,195.80 258.25,195.83 259.73,195.86 261.22,195.88 262.70,195.90 264.19,195.92 265.67,195.93 267.16,195.94 268.65,195.94 270.13,195.94 271.62,195.93 273.11,195.92 274.60,195.90 276.09,195.88 277.58,195.85 279.07,195.82 280.56,195.78 282.06,195.74 283.55,195.69 285.04,195.64 286.54,195.58 288.04,195.52 289.53,195.45 291.03,195.38 292.53,195.30 294.03,195.22 295.53,195.14 297.03,195.05 298.53,194.96 300.03,194.86 301.53,194.76 303.03,194.66 304.53,194.56 306.03,194.45 307.54,194.34 309.04,194.22 310.54,194.10 312.05,193.98 313.55,193.86 315.06,193.74 316.56,193.61 318.07,193.48 319.57,193.35 321.08,193.22 322.58,193.09 324.09,192.96 325.59,192.82 327.10,192.68 328.60,192.54 330.11,192.41 331.61,192.27 333.12,192.13 334.62,191.99 336.13,191.84 337.63,191.70 339.13,191.56 340.64,191.42 342.14,191.28 343.65,191.14 345.15,191.00 346.65,190.86 348.15,190.72 349.66,190.59 351.16,190.45 352.66,190.31 354.16,190.18 355.66,190.05 357.16,189.92 358.66,189.79 360.16,189.66 361.65,189.54 363.15,189.41 364.65,189.29 366.14,189.18 367.64,189.06 369.13,188.95 370.62,188.84 372.12,188.73 373.61,188.63 375.10,188.53 376.59,188.43 378.08,188.34 379.57,188.25 381.05,188.16 382.54,188.08 384.03,188.00 385.51,187.93 386.99,187.86 388.47,187.79 389.95,187.73 391.43,187.68 392.91,187.63 394.39,187.58 395.86,187.54 397.34,187.51 398.81,187.48" fill="none" stroke="#e60bd3" stroke-opacity="0.8" stroke-width="3" stroke-linejoin="round"/>
<path d="M117.55,310.19 117.93,308.64 118.33,307.11 118.74,305.59 119.18,304.08 119.63,302.57 120.09,301.08 120.57,299.59 121.07,298.12 121.58,296.65 122.11,295.19 122.66,293.75 123.22,292.31 123.79,290.88 124.38,289.46 124.99,288.06 125.61,286.66 126.24,285.27 126.89,283.89 127.55,282.52 128.23,281.16 128.92,279.81 129.63,278.47 130.35,277.14 131.08,275.82 131.83,274.51 132.59,273.21 133.36,271.92 134.15,270.64 134.95,269.37 135.76,268.11 136.59,266.86 137.43,265.62 138.28,264.39 139.14,263.16 140.01,261.95 140.90,260.76 141.80,259.57 142.71,258.39 143.63,257.22 144.57,256.06 145.51,254.91 146.47,253.77 147.44,252.64 148.42,251.53 149.41,250.42 150.41,249.32 151.42,248.24 152.44,247.16 153.47,246.09 154.51,245.04 155.56,244.00 156.63,242.96 157.70,241.94 158.78,240.93 159.87,239.93 160.97,238.93 162.08,237.95 163.19,236.98 164.32,236.03 165.46,235.08 166.60,234.14 167.75,233.21 168.91,232.30 170.08,231.39 171.26,230.50 172.44,229.62 173.64,228.74 174.84,227.88 176.05,227.03 177.26,226.19 178.48,225.36 179.72,224.55 180.95,223.74 182.20,222.94 183.45,222.15 184.71,221.38 185.97,220.61 187.25,219.85 188.53,219.11 189.81,218.37 191.11,217.64 192.40,216.93 193.71,216.22 195.02,215.53 196.34,214.84 197.66,214.16 198.99,213.50 200.33,212.84 201.67,212.19 203.01,211.55 204.37,210.93 205.72,210.31 207.09,209.70 208.45,209.10 209.83,208.51 211.21,207.92 212.59,207.35 213.98,206.79 215.37,206.23 216.77,205.69 218.17,205.15 219.58,204.62 220.99,204.11 222.41,203.60 223.83,203.09 225.25,202.60 226.68,202.12 228.11,201.64 229.54,201.17 230.98,200.72 232.43,200.26 233.87,199.82 235.32,199.39 236.78,198.96 238.23,198.55 239.69,198.14 241.16,197.73 242.62,197.34 244.09,196.96 245.56,196.58 247.04,196.21 248.52,195.85 250.00,195.49 251.48,195.14 252.96,194.80 254.45,194.47 255.94,194.15 257.43,193.83 258.92,193.52 260.41,193.22 261.91,192.92 263.41,192.64 264.91,192.36 266.41,192.08 267.91,191.81 269.41,191.55 270.92,191.30 272.43,191.06 273.93,190.82 275.44,190.58 276.95,190.36 278.46,190.14 279.97,189.93 281.48,189.72 282.99,189.52 284.50,189.32 286.01,189.14 287.52,188.96 289.03,188.78 290.54,188.61 292.06,188.45 293.57,188.29 295.08,188.14 296.59,188.00 298.10,187.86 299.61,187.73 301.11,187.60 302.62,187.48 304.13,187.36 305.63,187.25 307.14,187.15 308.64,187.05 310.14,186.95 311.64,186.86 313.14,186.78 314.64,186.70 316.14,186.63 317.63,186.56 319.12,186.50 320.61,186.44 322.10,186.39 323.59,186.34 325.07,186.30 326.55,186.26 328.03,186.22 329.51,186.20 330.98,186.17 332.45,186.15 333.92,186.14 335.39,186.12 336.85,186.12 338.31,186.12 339.77,186.12 341.22,186.12 342.67,186.13 344.11,186.15 345.56,186.17 347.00,186.19 348.43,186.22 349.86,186.25 351.29,186.28 352.71,186.32 354.13,186.36 355.55,186.41" fill="none" stroke="#46c828" stroke-width="1.3"/>
<line x1="39.2" y1="185.5" x2="434.5" y2="185.5" stroke="#222" stroke-width="1.35" stroke-dasharray="6.9 5.6"/>
<line x1="51.1" y1="62" x2="51.1" y2="319" stroke="#444" stroke-width="1.1" stroke-dasharray="1.2 1.6"/>
<line x1="110.4" y1="108" x2="110.4" y2="319" stroke="#444" stroke-width="1.1" stroke-dasharray="1.2 1.6"/>
<path d="M42.8,310.2 L42.8,68 M42.8,310.2 L431,310.2" fill="none" stroke="#222" stroke-width="1.6" stroke-linejoin="round"/>
<path d="M42.8,62 L45.5,69 L42.8,68 L40.1,69 Z" fill="#222"/>
<path d="M438.5,310.2 L430.5,307.5 L431.5,310.2 L430.5,312.9 Z" fill="#222"/>
<path d="M163.20,58.30 L116.11,101.72" stroke="#2f93e4" stroke-width="0.85" fill="none"/>
<path d="M113.10,104.50 L115.50,99.43 L116.11,101.72 L118.35,102.52 Z" fill="#2f93e4"/>
<path d="M288.80,216.40 L276.57,196.78" stroke="#2f93e4" stroke-width="0.85" fill="none"/>
<path d="M274.40,193.30 L278.93,196.60 L276.57,196.78 L275.37,198.82 Z" fill="#2f93e4"/>
<path d="M83.80,338.80 L69.82,314.17" stroke="#222" stroke-width="0.85" fill="none"/>
<path d="M67.80,310.60 L72.19,314.09 L69.82,314.17 L68.54,316.16 Z" fill="#222"/>
<g stroke-width="0.35">
<text x="44.2" y="17.7" fill="#222" stroke="#222">Hard sphere repulsion</text>
<text x="169.8" y="55.6" fill="#2b90ea" stroke="#2b90ea" letter-spacing="0.08">Energy barrier of stable colloid,</text>
<g fill="#7fbdf2" stroke="none"><text transform="translate(345.3,55.4) scale(1.55,1.15)">&gt;</text><text transform="translate(359.6,53.3) scale(1.4,1)" font-style="italic">k</text><text transform="translate(368.2,55.7) scale(1.5,1)" style="font-size:9.4px" font-style="italic">B</text><text transform="translate(376.0,53.3) scale(1.4,1)" font-style="italic">T</text></g>
<text x="342.8" y="229" fill="#2b90ea" stroke="#2b90ea" text-anchor="middle">Secondary minimum</text>
<text x="342.8" y="245.5" fill="#2b90ea" stroke="#2b90ea" text-anchor="middle">(stable colloid)</text>
<text x="86.0" y="345.5" fill="#222" stroke="#222" letter-spacing="0.03">Primary minimum (aggregation)</text>
<text x="492" y="307.6" fill="#222" stroke="#222" text-anchor="middle">Particle separation</text>
<text x="492" y="324.4" fill="#222" stroke="#222" text-anchor="middle">(center to center), <tspan font-style="italic">x</tspan></text>
<text x="45.6" y="328" fill="#222" stroke="#222" style="font-size:12.5px">2</text><text x="51.4" y="328" fill="#222" stroke="#222" style="font-size:12.5px" font-style="italic">r</text>
<text x="92.0" y="330.2" fill="#222" stroke="#222">∼</text><text x="105.6" y="330.4" fill="#222" stroke="#222" font-style="italic">κ</text><text x="114.6" y="323.4" fill="#222" stroke="#222" style="font-size:10.4px">−1</text>
<text x="25.5" y="190" fill="#222" stroke="#222">0</text>
<text transform="translate(18.7,184.65) rotate(-90)" text-anchor="middle" fill="#222" stroke="#222">Interaction potential</text>
<text transform="translate(32.7,120.9) rotate(-90)" text-anchor="middle" fill="#222" stroke="#222">&gt;0, repulsive</text>
<text transform="translate(32.6,248) rotate(-90)" text-anchor="middle" fill="#222" stroke="#222">&lt;0, attractive</text>
<text fill="#ef1f6e" stroke="#ef1f6e"><textPath href="#pinkT" startOffset="13.84" letter-spacing="0.1">Electrostatic repulsion <tspan dx="2.0"><tspan style="font-size:11px" dy="-0.4">@</tspan></tspan><tspan dx="0.6" dy="0.4"> high I</tspan></textPath></text>
<text fill="#3f5bef" stroke="#3f5bef"><textPath href="#blueT" startOffset="9.65">Electrostatic repulsion <tspan dx="1.0"><tspan style="font-size:11px" dy="-0.4">@</tspan></tspan><tspan dx="1.4" dy="0.4"> low I</tspan></textPath></text>
<text transform="translate(74.8,278.5) rotate(-83.6)" fill="#2b90ea" stroke="#2b90ea">Total potential <tspan dx="0.8"><tspan style="font-size:11px" dy="-0.4">@</tspan></tspan><tspan dx="1.2" dy="0.4">low</tspan><tspan font-style="italic">I</tspan></text>
<text fill="#f0307e" stroke="#f0307e"><textPath href="#magT" startOffset="16.57">Total potential <tspan dx="3.8"><tspan style="font-size:11px" dy="-0.4">@</tspan></tspan><tspan dx="2.6" dy="0.4">high I</tspan></textPath></text>
<text fill="#46c828" stroke="#46c828"><textPath href="#greenT" startOffset="10.76">Van der Waals attraction</textPath></text>
</g>
</svg></body></html>
